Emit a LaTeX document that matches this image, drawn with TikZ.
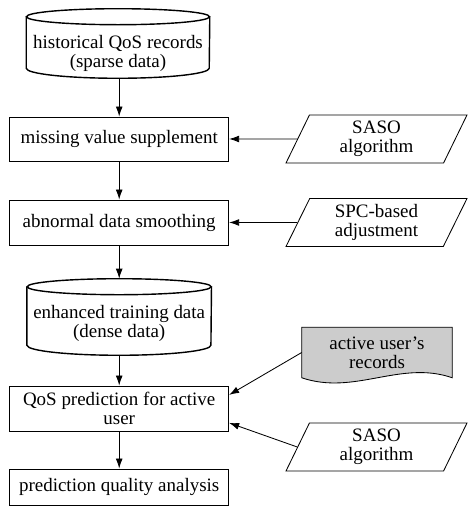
\documentclass[tikz,border=0pt]{standalone}
\usepackage{fontspec}
\setmainfont{Liberation Serif}
\usetikzlibrary{shapes.geometric,arrows.meta,positioning,calc,backgrounds}

\tikzset{
  procbox/.style={draw, line width=0.6pt, minimum width=5.475cm, align=center, inner sep=1pt},
  dataframe/.style={inner sep=0pt},
  cylline/.style={line width=1pt},
  inputpar/.style={draw, line width=0.6pt, trapezium, trapezium left angle=62.5, trapezium right angle=117.5,
    trapezium stretches body, minimum width=4.525cm, minimum height=1.2cm, align=center},
  flow/.style={-{Latex[length=2.5mm,width=1.7mm]}, line width=0.6pt},
}

\begin{document}
\begin{tikzpicture}[font=\fontsize{13.5}{13.5}\selectfont]
    \useasboundingbox (0,0) rectangle (11.85,13);

    % historical records (cylinder)
    \node[dataframe, minimum width=4.575cm, minimum height=1.725cm] (hist) at (2.95,11.9125) {};
    \draw[cylline] ([yshift=-0.2cm]hist.north) ellipse (2.2875 and 0.2);
    \draw[cylline] ([yshift=-0.2cm]hist.north west) -- ([yshift=0.25cm]hist.south west)
        arc[start angle=180, end angle=360, x radius=2.2875, y radius=0.25] -- ([yshift=-0.2cm]hist.north east);
    \node[align=center] (histtxt) at (2.95,11.6625) {historical QoS records\\(sparse data)};

    % processing steps
    \node[procbox, minimum height=1.1cm] (supp) at (2.98,9.525) {missing value supplement};
    \node[procbox, minimum height=1.125cm] (smooth) at (2.98,7.4375) {abnormal data smoothing};

    % enhanced training data (cylinder)
    \node[dataframe, minimum width=4.6cm, minimum height=1.9cm] (dense) at (2.98,5.075) {};
    \draw[cylline] ([yshift=-0.2cm]dense.north) ellipse (2.3 and 0.2);
    \draw[cylline] ([yshift=-0.2cm]dense.north west) -- ([yshift=0.25cm]dense.south west)
        arc[start angle=180, end angle=360, x radius=2.3, y radius=0.25] -- ([yshift=-0.2cm]dense.north east);
    \node[align=center] (densetxt) at (2.98,4.9125) {enhanced training data\\(dense data)};

    \node[procbox, minimum height=1.125cm] (pred) at (2.98,2.7875) {QoS prediction for active\\user};
    \node[procbox, minimum height=0.9cm] (qual) at (2.98,0.825) {prediction quality analysis};

    % inputs on the right
    \node[inputpar] (saso1) at (9.4125,9.525) {SASO\\algorithm};
    \node[inputpar] (spc) at (9.4125,7.4375) {SPC-based\\adjustment};
    \node[inputpar] (saso2) at (9.4125,1.825) {SASO\\algorithm};

    % active user's records (document)
    \node[minimum width=3.75cm, minimum height=1.25cm, align=center] (recs) at (9.425,4.1875) {active user’s\\records};
    \begin{scope}[on background layer]
    \filldraw[fill=gray!40, line width=0.6pt] (recs.north west) -- (recs.north east) -- (recs.south east)
        .. controls +(-1.3,0.45) and +(1.325,-0.45) .. (recs.south west) -- cycle;
    \end{scope}

    % connectors
    \draw[flow] (hist.south -| supp.north) -- (supp.north);
    \draw[flow] (supp) -- (smooth);
    \draw[flow] (smooth) -- (dense);
    \draw[flow] (dense) -- (pred);
    \draw[flow] (pred) -- (qual);
    \draw[flow] (saso1.west) -- (supp.east);
    \draw[flow] (spc.west) -- (smooth.east);
    \draw[flow] (recs.west) -- ($(pred.east)+(0,0.34)$);
    \draw[flow] (saso2.west) -- ($(pred.east)+(0,-0.36)$);
\end{tikzpicture}
\end{document}
